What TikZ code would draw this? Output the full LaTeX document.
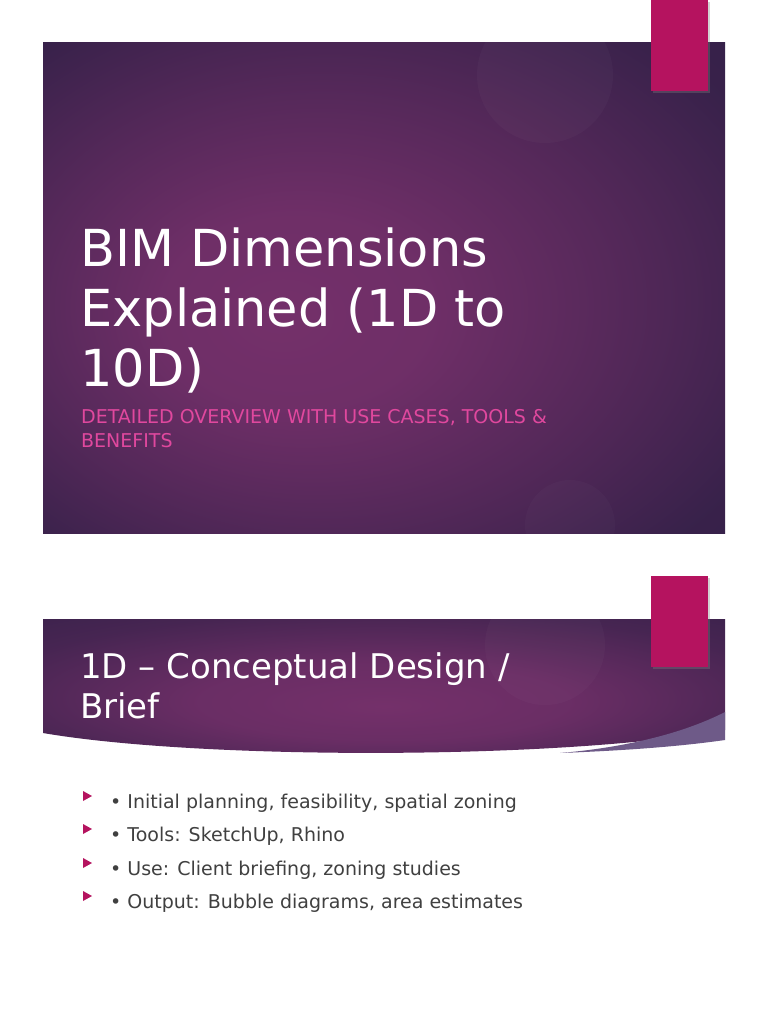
\documentclass[tikz,border=0pt]{standalone}
\usepackage{fontspec}
\setmainfont{DejaVu Sans}
\usetikzlibrary{shadows}
\definecolor{pdark}{HTML}{2E1F45}
\definecolor{plight}{HTML}{74306A}
\definecolor{tabpink}{HTML}{B5135F}
\definecolor{subpink}{HTML}{E0489E}
\definecolor{bodygray}{HTML}{404040}
\definecolor{bandlight}{HTML}{6E5A88}
\pgfdeclareradialshading{slideglow}{\pgfpoint{-8bp}{-3bp}}{color(0bp)=(plight); color(10bp)=(plight!92!pdark); color(22bp)=(plight!55!pdark); color(34bp)=(plight!15!pdark); color(50bp)=(pdark)}
\pgfdeclareradialshading{bandglow}{\pgfpoint{0bp}{-6bp}}{color(0bp)=(plight); color(14bp)=(plight!85!pdark); color(30bp)=(plight!35!pdark); color(50bp)=(pdark)}
\tikzset{x=1pt,y=-1pt,
 tabbox/.style={fill=tabpink,draw=none,drop shadow={opacity=0.35,shadow xshift=2pt,shadow yshift=-2pt}},
 bullet/.style={fill=tabpink,draw=none},
 tline/.style={anchor=base west,text=white,inner sep=0,font=\fontsize{51}{60}\selectfont},
 sline/.style={anchor=base west,text=subpink,inner sep=0,font=\fontsize{19}{24}\selectfont},
 hline/.style={anchor=base west,text=white,inner sep=0,font=\fontsize{34}{40}\selectfont},
 btext/.style={anchor=base west,text=bodygray,font=\fontsize{19}{22}\selectfont,inner sep=0}}
\begin{document}
\begin{tikzpicture}
\useasboundingbox (0,0) rectangle (768,1024);
\fill[white] (0,0) rectangle (768,1024);
% slide 1
\shade[shading=slideglow] (43,43) rectangle (725,533);
\fill[white,opacity=0.025] (545,75) circle (68);
\fill[white,opacity=0.02] (570,525) circle (45);
\node[tabbox,minimum width=57,minimum height=91,inner sep=0,anchor=north west] (tab1) at (651,0) {};
\node[tline] (t1) at (80,266) {BIM Dimensions};
\node[tline] (t2) at (80,326) {Explained (1D to};
\node[tline] (t3) at (80,386) {10D)};
\node[sline] (s1) at (81,423) {DETAILED OVERVIEW WITH USE CASES, TOOLS \&};
\node[sline] (s2) at (81,447) {BENEFITS};
% slide 2
\shade[shading=bandglow] (43,619) -- (725,619) -- (725,730)
  .. controls (560,760) and (200,760) .. (43,733) -- cycle;
\fill[bandlight] (725,712) .. controls (680,735) and (620,748) .. (560,753)
  .. controls (640,750) and (690,745) .. (725,740) -- cycle;
\fill[white,opacity=0.025] (545,645) circle (60);
\node[tabbox,minimum width=57,minimum height=91,inner sep=0,anchor=north west] (tab2) at (651,576) {};
\node[hline] (h1) at (80,678) {1D – Conceptual Design /};
\node[hline] (h2) at (80,718) {Brief};
\foreach \y/\t [count=\i] in {808/{• Initial planning, feasibility, spatial zoning},
  841/{• Tools: SketchUp, Rhino},
  875/{• Use: Client briefing, zoning studies},
  908/{• Output: Bubble diagrams, area estimates}}{
  \fill[bullet] (83,\y-17) -- (92,\y-12) -- (83,\y-7) -- cycle;
  \node[btext] (b\i) at (110,\y) {\t};
}
\end{tikzpicture}
\end{document}
